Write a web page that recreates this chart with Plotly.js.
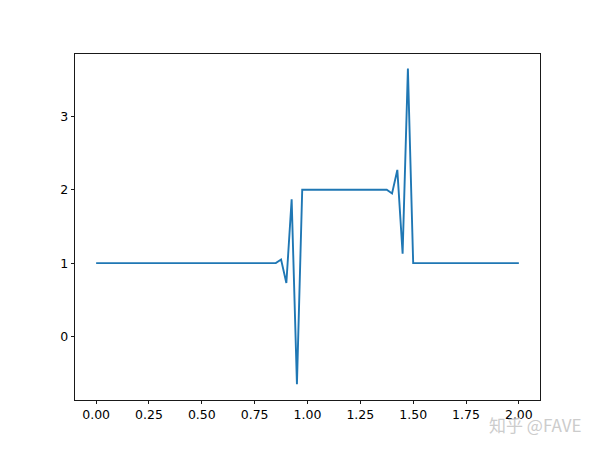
<!DOCTYPE html>
<html>
<head>
<meta charset="utf-8">
<script src="https://cdn.plot.ly/plotly-3.0.1.min.js"></script>
<style>html,body{margin:0;padding:0;background:#fff}#plot{width:600px;height:450px}</style>
</head>
<body>
<div id="plot"></div>
<script>
const xValues = [
  0.000,0.025,0.050,0.075,0.100,0.125,0.150,0.175,0.200,0.225,
  0.250,0.275,0.300,0.325,0.350,0.375,0.400,0.425,0.450,0.475,
  0.500,0.525,0.550,0.575,0.600,0.625,0.650,0.675,0.700,0.725,
  0.750,0.775,0.800,0.825,0.850,0.875,0.900,0.925,0.950,0.975,
  1.000,1.025,1.050,1.075,1.100,1.125,1.150,1.175,1.200,1.225,
  1.250,1.275,1.300,1.325,1.350,1.375,1.400,1.425,1.450,1.475,
  1.500,1.525,1.550,1.575,1.600,1.625,1.650,1.675,1.700,1.725,
  1.750,1.775,1.800,1.825,1.850,1.875,1.900,1.925,1.950,1.975,
  2.000
];
const yValues = [
  1,1,1,1,1,1,1,1,1,1,
  1,1,1,1,1,1,1,1,1,1,
  1,1,1,1,1,1,1,1,1,1,
  1,1,1,1,1,1.05,0.73,1.87,-0.65,2,
  2,2,2,2,2,2,2,2,2,2,
  2,2,2,2,2,2,1.95,2.27,1.13,3.65,
  1,1,1,1,1,1,1,1,1,1,
  1,1,1,1,1,1,1,1,1,1,
  1
];
const xTickVals = [0, 0.25, 0.5, 0.75, 1.0, 1.25, 1.5, 1.75, 2.0];
const xTickText = ["0.00","0.25","0.50","0.75","1.00","1.25","1.50","1.75","2.00"];
const yTickVals = [0, 1, 2, 3];
const yTickText = ["0","1","2","3"];
const watermark = "知乎 @FAVE";

const trace = {
  x: xValues, y: yValues, type: 'scatter', mode: 'lines',
  line: {color: '#1f77b4', width: 1.9}, hoverinfo: 'skip'
};
const axisCommon = {
  showgrid: false, zeroline: false, showline: true, mirror: true,
  linecolor: '#000', linewidth: 0.9, ticks: 'outside', ticklen: 3.5,
  tickwidth: 0.9, tickcolor: '#000',
  tickfont: {family: 'DejaVu Sans', size: 12.5, color: '#000'}
};
const layout = {
  width: 600, height: 450,
  margin: {l: 75, r: 60, t: 54, b: 50, pad: 0},
  paper_bgcolor: '#fff', plot_bgcolor: '#fff',
  showlegend: false,
  xaxis: Object.assign({}, axisCommon, {
    range: [-0.1, 2.1], tickmode: 'array', tickvals: xTickVals, ticktext: xTickText
  }),
  yaxis: Object.assign({}, axisCommon, {
    range: [-0.8643, 3.8493], tickmode: 'array', tickvals: yTickVals, ticktext: yTickText
  }),
  annotations: [{
    text: watermark, xref: 'paper', yref: 'paper', x: 1.0925, y: -0.072,
    xanchor: 'right', yanchor: 'middle', showarrow: false,
    font: {family: 'Noto Sans CJK SC', size: 17, color: '#cccccc'}
  }]
};
Plotly.newPlot('plot', [trace], layout, {staticPlot: true, displayModeBar: false});
</script>
</body>
</html>
